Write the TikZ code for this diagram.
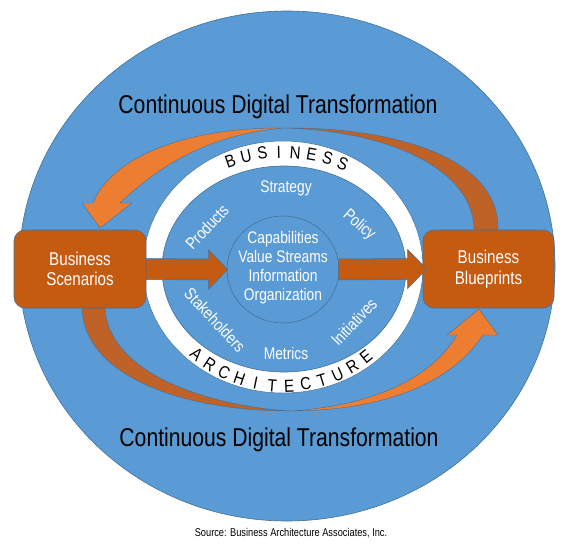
\documentclass[tikz,border=0pt]{standalone}
\usepackage{fontspec}
\setmainfont{Liberation Sans}[FakeStretch=0.82]
\newfontfamily\ringfont{Liberation Sans}[FakeStretch=0.86]
\usetikzlibrary{calc,shapes.geometric}
\definecolor{cblue}{HTML}{5B9BD5}
\definecolor{cedge}{HTML}{41719C}
\definecolor{cbox}{HTML}{C55A11}
\definecolor{corange}{HTML}{ED7D31}
\definecolor{cdark}{HTML}{BE6228}
\pgfdeclarelayer{back}
\pgfdeclarelayer{mid}
\pgfdeclarelayer{front}
\pgfsetlayers{back,mid,main,front}
\begin{document}
\begin{tikzpicture}[x=1pt,y=-1pt,
  boxst/.style={draw=cedge, line width=0.6pt, fill=cbox, rounded corners=11pt,
    minimum width=132pt, minimum height=78pt, inner sep=0pt, text=white,
    align=center, font=\fontsize{18.5}{20.5}\selectfont},
  harrow/.style={draw=cedge, line width=0.5pt, fill=cbox},
  lab/.style={text=white, font=\fontsize{16.8}{19}\selectfont, inner sep=0pt},
  titlest/.style={font=\fontsize{25.8}{30}\selectfont, text=black, anchor=base, inner sep=0pt},
  ringl/.style={font=\ringfont\fontsize{17.5}{18}\selectfont, text=black, anchor=base, inner sep=0pt},
  arcbright/.style={fill=corange, draw=cedge, line width=0.4pt},
  arcdark/.style={fill=cdark, draw=cedge, line width=0.4pt},
  blueshape/.style={fill=cblue, draw=cedge, line width=0.6pt}
]
\useasboundingbox (0,0) rectangle (564,546);
\begin{pgfonlayer}{back}
\fill[white] (0,0) rectangle (564,546);
% outer ellipse
\draw[blueshape] (287,266) ellipse [x radius=268, y radius=255];
% top curved arrow: dark tail part, bright head part
\path[arcdark] (498,230) .. controls (500,160) and (400,127) .. (285,128)
  .. controls (390,131) and (474,170) .. (474,230) -- cycle;
\path[arcbright] (285,128) .. controls (180,127) and (110,160) .. (93,203)
  -- (82,203) -- (100,228) -- (132,203) -- (120,203)
  .. controls (160,165) and (210,134) .. (285,128) -- cycle;
% bottom curved arrow
\path[arcdark] (82,308) .. controls (84,375) and (180,411) .. (290,411)
  .. controls (200,405) and (108,370) .. (105,308) -- cycle;
\path[arcbright] (290,411) .. controls (380,411) and (450,385) .. (483,335)
  -- (498,335) -- (479,309) -- (447,335) -- (457,335)
  .. controls (430,380) and (370,406) .. (290,411) -- cycle;
% white ring and inner disc
\draw[fill=white, draw=cedge, line width=0.5pt] (283,267) ellipse [x radius=140, y radius=126];
\draw[blueshape] (284,269) ellipse [x radius=122, y radius=103];
% core circle
\node[ellipse, blueshape, minimum width=112pt, minimum height=107pt, inner sep=0pt] (core) at (283,269.5) {};
\node[text=white, align=center, font=\fontsize{16.8}{19}\selectfont, inner sep=0pt] (coretext) at (283,268)
  {Capabilities\\Value Streams\\Information\\Organization};
% labels in the inner disc
\node[lab] (strat) at (286,188) {Strategy};
\node[lab] (metr) at (286,353) {Metrics};
\node[lab, rotate=47] (prod) at (207,227) {Products};
\node[lab, rotate=-41] (pol) at (359,225) {Policy};
\node[lab, rotate=-47] (stak) at (215,320) {Stakeholders};
\node[lab, rotate=46] (init) at (354,322) {Initiatives};
% ring letters
\foreach \ch [count=\i from 0] in {B,U,S,I,N,E,S,S} {
  \pgfmathsetmacro\a{112-\i*6.75}
  \pgfmathsetmacro\r{atan2(-117*cos(\a),135*sin(\a))}
  \node[ringl, rotate=\r] (bl\i) at ({283+135*cos(\a)},{275-117*sin(\a)}) {\ch};
}
\foreach \ch [count=\i from 0] in {A,R,C,H,I,T,E,C,T,U,R,E} {
  \pgfmathsetmacro\a{228+\i*7.45}
  \pgfmathsetmacro\r{atan2(130*cos(\a),-135*sin(\a))}
  \node[ringl, rotate=\r] (al\i) at ({283+135*cos(\a)},{262-130*sin(\a)}) {\ch};
}
% titles
\node[titlest] (ttop) at (278,113) {Continuous Digital Transformation};
\node[titlest] (tbot) at (279,446) {Continuous Digital Transformation};
\node[font=\fontsize{11.3}{13}\selectfont, anchor=base, inner sep=0pt] (src) at (291,536)
  {Source: Business Architecture Associates, Inc.};
\end{pgfonlayer}
% boxes
\node[boxst] (scen) at (80,269) {Business\\Scenarios};
\node[boxst, minimum width=131pt] (blue) at (488.5,269) {Business\\Blueprints};
% horizontal block arrows
\begin{pgfonlayer}{mid}
\path[harrow] ($(scen.east)+(-4,-10.5)$) -- ($(core.west)+(-18,-10.5)$)
  -- ($(core.west)+(-18,-19.5)$) -- ($(core.west)+(1,0)$)
  -- ($(core.west)+(-18,19.5)$) -- ($(core.west)+(-18,10.5)$)
  -- ($(scen.east)+(-4,10.5)$) -- cycle;
\end{pgfonlayer}
\begin{pgfonlayer}{front}
\path[harrow] ($(core.east)+(-1,-10.5)$) -- ($(blue.west)+(-15,-10.5)$)
  -- ($(blue.west)+(-15,-19.5)$) -- ($(blue.west)+(4,0)$)
  -- ($(blue.west)+(-15,19.5)$) -- ($(blue.west)+(-15,10.5)$)
  -- ($(core.east)+(-1,10.5)$) -- cycle;
\end{pgfonlayer}
\end{tikzpicture}
\end{document}
